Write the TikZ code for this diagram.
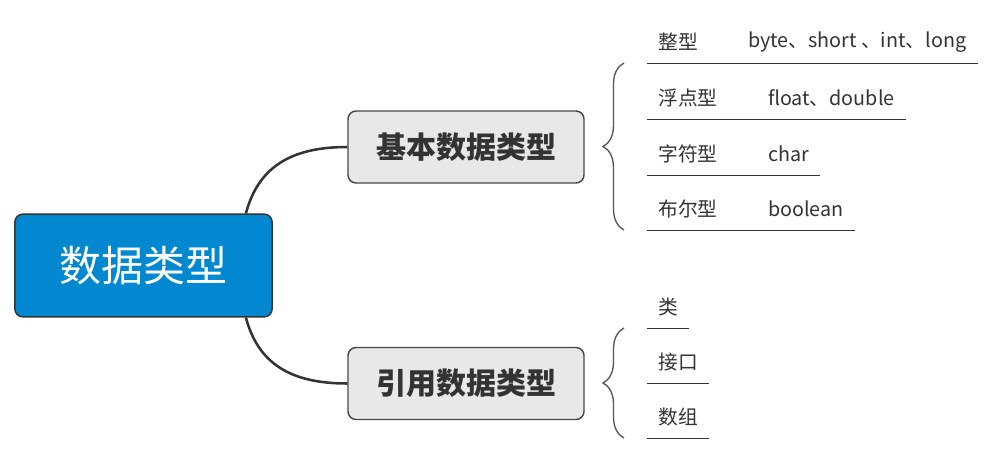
\documentclass[tikz,border=0pt]{standalone}
\usepackage{fontspec}
\setmainfont{Noto Sans CJK SC}
\usetikzlibrary{positioning,calc,decorations.pathreplacing}

\definecolor{rootblue}{RGB}{2,136,209}
\definecolor{boxgray}{RGB}{232,232,232}
\definecolor{inkgray}{RGB}{51,51,51}
\definecolor{bracegray}{RGB}{85,85,85}

\tikzset{
  rootbox/.style={draw=inkgray,fill=rootblue,line width=1.1pt,rounded corners=6pt,
    minimum width=193pt,minimum height=77pt,text=white,font=\fontsize{31.5}{34}\selectfont},
  typebox/.style={draw=inkgray!90,fill=boxgray,line width=1.1pt,rounded corners=6pt,
    minimum width=177pt,minimum height=54pt,text=inkgray,font=\bfseries\fontsize{22.5}{25}\selectfont},
  branch/.style={draw=inkgray,line width=1.9pt},
  leaf/.style={inner xsep=8.25pt,inner ysep=0pt,minimum height=31.5pt,text=inkgray,
    font=\fontsize{14.8}{16}\selectfont},
  uline/.style={draw=inkgray,line width=0.75pt},
  curly/.style={draw=bracegray,line width=1pt,decorate,decoration={brace,amplitude=15.75pt}}
}

\begin{document}
\begin{tikzpicture}[x=0.75pt,y=-0.75pt]
    \useasboundingbox (0,0) rectangle (993,464);
    \node[rootbox] (root) at (143.5,265.5) {数据类型};
    \node[typebox] (basic) at (466,147) {基本数据类型};
    \node[typebox] (ref) at (466,383.5) {引用数据类型};
    \draw[branch] ($(root.north east)+(-27,0)$) .. controls +(12,-45) and +(-58,0) .. (basic.west);
    \draw[branch] ($(root.south east)+(-27,0)$) .. controls +(12,45) and +(-58,0) .. (ref.west);
    % basic types
    \foreach \n/\lab/\val/\y in {1/整型/{byte、short 、int、long}/63,2/浮点型/{float、double}/119,3/字符型/char/175,4/布尔型/boolean/230} {
        \node[leaf,anchor=south west] (lab\n) at (647,\y) {\lab};
        \node[leaf,right=21pt of lab\n] (val\n) {\val};
        \draw[uline] (lab\n.south west) -- (val\n.south east);
    }
    % reference types
    \foreach \n/\lab/\y in {1/类/328,2/接口/383,3/数组/438} {
        \node[leaf,anchor=south west] (item\n) at (647,\y) {\lab};
        \draw[uline] (item\n.south west) -- (item\n.south east);
    }
    \draw[curly] ($(lab4.south west)+(-23,0)$) -- ($(lab1.south west)+(-23,0)$);
    \draw[curly] ($(item3.south west)+(-23,0)$) -- ($(item1.south west)+(-23,0)$);
\end{tikzpicture}
\end{document}
